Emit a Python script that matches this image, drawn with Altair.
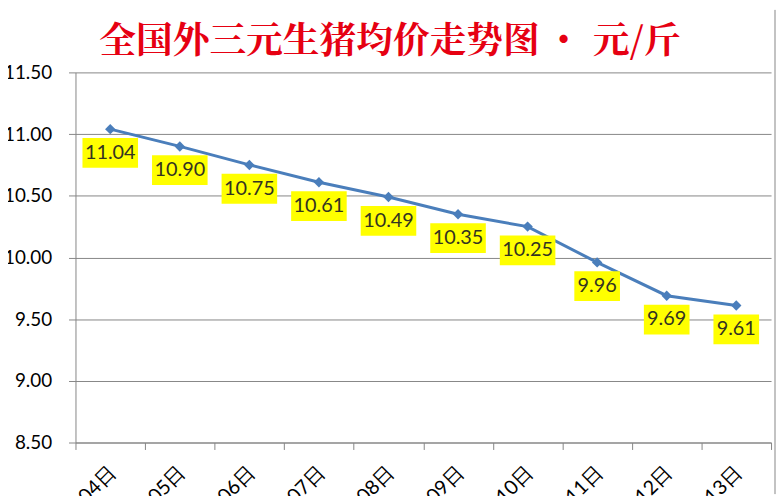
import altair as alt
import pandas as pd

dates = ["1月04日", "1月05日", "1月06日", "1月07日", "1月08日",
         "1月09日", "1月10日", "1月11日", "1月12日", "1月13日"]
prices = [11.04, 10.90, 10.75, 10.61, 10.49, 10.35, 10.25, 9.96, 9.69, 9.61]
y_ticks = [8.5, 9.0, 9.5, 10.0, 10.5, 11.0, 11.5]
title_main = "全国外三元生猪均价走势图"
title_dot = "・"
title_unit = "元/斤"

df = pd.DataFrame({"date": dates, "price": prices})

GRAY = "#868686"
LINE = "#4A7EBB"
RED = "#E60012"
TFONT = "Noto Serif CJK SC, Noto Sans CJK SC"

x_enc = alt.X("date:N", sort=None, title=None,
              scale=alt.Scale(paddingInner=0, paddingOuter=0),
              axis=alt.Axis(labelAngle=-45, labelFontSize=20, labelFont="Lato",
                            labelColor="black", domainColor=GRAY, tickColor=GRAY,
                            tickSize=7, tickBand="extent", labelPadding=13,
                            labelOffset=-5, grid=False))
y_enc = alt.Y("price:Q", title=None,
              scale=alt.Scale(domain=[8.5, 11.5], nice=False, zero=False),
              axis=alt.Axis(values=y_ticks, format=".2f", labelFontSize=19,
                            labelFont="Lato", labelColor="black", grid=True,
                            gridColor=GRAY, domainColor=GRAY, tickColor=GRAY,
                            tickSize=7, labelPadding=17))

base = alt.Chart(df)

line = base.mark_line(color=LINE, strokeWidth=3).encode(x=x_enc, y=y_enc)
pts = base.mark_point(shape="diamond", filled=True, size=110, color=LINE,
                      opacity=1).encode(x="date:N", y="price:Q")

box5 = base.transform_filter("datum.price >= 10").mark_rect(
    color="#FFFF00", width=56, height=30, yOffset=24).encode(x="date:N", y="price:Q")
box4 = base.transform_filter("datum.price < 10").mark_rect(
    color="#FFFF00", width=46, height=30, yOffset=24).encode(x="date:N", y="price:Q")
labels = base.mark_text(fontSize=20, font="Lato", color="#333322", dy=24,
                        baseline="middle").encode(
    x="date:N", y="price:Q", text=alt.Text("price:Q", format=".2f"))

tdf = pd.DataFrame({"t": [title_main], "d": [title_dot], "u": [title_unit]})
t1 = alt.Chart(tdf).mark_text(font=TFONT, fontSize=37, fontWeight="bold", color=RED,
                              baseline="middle", align="left").encode(
    text="t:N", x=alt.value(24), y=alt.value(-31))
t2 = alt.Chart(tdf).mark_text(font=TFONT, fontSize=37, fontWeight="bold", color=RED,
                              baseline="middle", align="center").encode(
    text="d:N", x=alt.value(492), y=alt.value(-31))
t3 = alt.Chart(tdf).mark_text(font=TFONT, fontSize=37, fontWeight="bold", color=RED,
                              baseline="middle", align="right").encode(
    text="u:N", x=alt.value(610), y=alt.value(-31))

border = alt.Chart(pd.DataFrame({"a": [0]})).mark_rule(color=GRAY, strokeWidth=1).encode(
    x=alt.value(705), y=alt.value(-63), y2=alt.value(425))

chart = alt.layer(line, box5, box4, labels, pts, t1, t2, t3, border).properties(
    width=701, height=373,
    autosize=alt.AutoSizeParams(type="none"),
    padding={"left": 68, "top": 63, "right": 5, "bottom": 52},
    background="white",
).configure_view(stroke=None)

chart.save("out.html", embed_options={"renderer": "svg", "actions": False})
